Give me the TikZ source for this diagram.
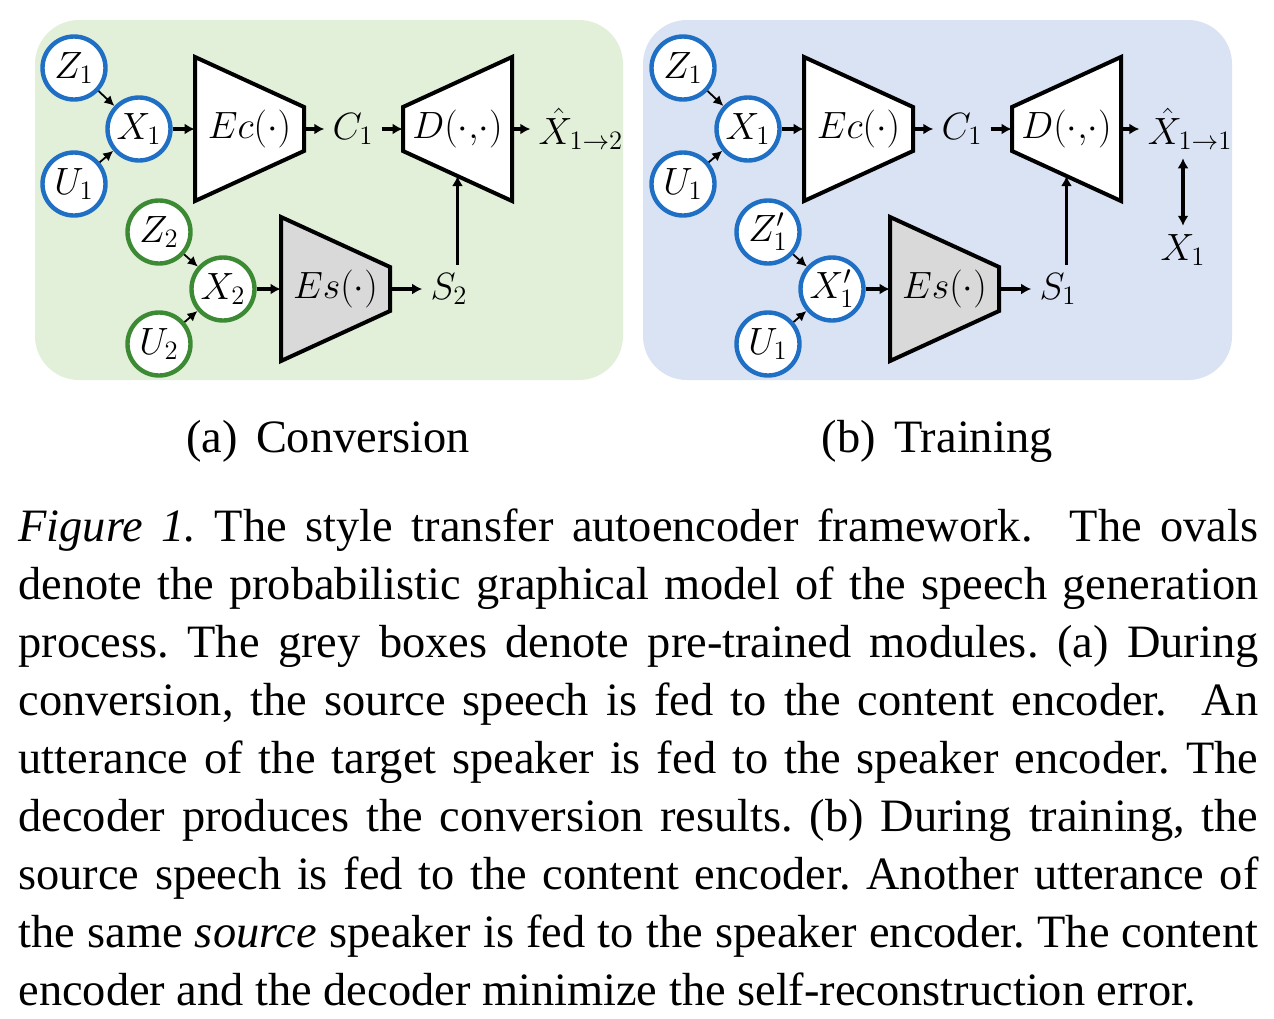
\RequirePackage{fix-cm}
\documentclass[tikz,border=0pt]{standalone}
\usepackage{fontspec}
\usepackage{amsmath}
\setmainfont{Liberation Serif}
\usetikzlibrary{arrows.meta,calc}
\definecolor{convbg}{HTML}{E2F0D9}
\definecolor{trainbg}{HTML}{DAE3F3}
\definecolor{srcblue}{HTML}{1F6FC4}
\definecolor{tgtgreen}{HTML}{3C8B34}
\definecolor{pregrey}{HTML}{D9D9D9}
\tikzset{
  var/.style     = {circle, draw, line width=2.2pt, fill=white, minimum size=31.5pt,
                    inner sep=0pt, font=\fontsize{19}{22}\selectfont},
  srcvar/.style  = {var, draw=srcblue},
  tgtvar/.style  = {var, draw=tgtgreen},
  enc/.style     = {draw=black, line width=2pt, fill=white, line join=miter},
  pre/.style     = {enc, fill=pregrey},
  modl/.style    = {minimum width=54.5pt, minimum height=72pt, inner sep=0pt,
                    font=\fontsize{19}{22}\selectfont},
  lab/.style     = {inner sep=4pt, font=\fontsize{19}{22}\selectfont},
  flow/.style    = {-{Latex[length=5pt,width=5.5pt]}, line width=1.6pt},
  thinflow/.style = {-{Latex[length=5pt,width=5pt]}, line width=0.9pt},
  dflow/.style   = {{Latex[length=5pt,width=5.5pt]}-{Latex[length=5pt,width=5.5pt]}, line width=1.8pt},
  subcap/.style  = {font=\fontsize{23.2}{28}\selectfont, inner sep=0pt, anchor=base},
  capt/.style    = {font=\fontsize{23.2}{29}\selectfont\frenchspacing, text width=620pt,
                    align=justify, inner sep=0pt, anchor=north west},
}

\begin{document}
\begin{tikzpicture}[x=0.5pt, y=-0.5pt]
\path[use as bounding box, fill=white] (0,0) rectangle (1274,1018);

% panel backgrounds
\fill[convbg, rounded corners=22pt] (35,20) rectangle (623,380);
\fill[trainbg, rounded corners=22pt] (643,20) rectangle (1232,380);

% (a) conversion
\node[srcvar] (aZ1) at (74,68) {$Z_1$};
\node[srcvar] (aX1) at (139,129) {$X_1$};
\node[srcvar] (aU1) at (74,184) {$U_1$};
\node[tgtvar] (aZ2) at (159,232) {$Z_2$};
\node[tgtvar] (aX2) at (223,289) {$X_2$};
\node[tgtvar] (aU2) at (159,344) {$U_2$};

\draw[enc] (195,57) -- (304,107) -- (304,151) -- (195,201) -- cycle;
\node[modl] (aEc) at (249.5,129) {$Ec(\cdot)$};
\draw[enc] (403,107) -- (512,57) -- (512,201) -- (403,151) -- cycle;
\node[modl] (aD) at (457.5,129) {$D(\cdot{,}\cdot)$};
\coordinate (aDin) at (457.5,176);
\draw[pre] (281,217) -- (390,267) -- (390,311) -- (281,361) -- cycle;
\node[modl] (aEs) at (335.5,289) {$Es(\cdot)$};

\node[lab] (aC1) at (353,129) {$C_1$};
\node[lab] (aXh) at (581,129) {$\hat{X}_{1\to 2}$};
\node[lab] (aS2) at (449,289) {$S_2$};

\draw[thinflow] (aZ1) -- (aX1); \draw[thinflow] (aU1) -- (aX1);
\draw[thinflow] (aZ2) -- (aX2); \draw[thinflow] (aU2) -- (aX2);
\draw[flow] (aX1) -- (aEc); \draw[flow] (aEc) -- (aC1);
\draw[flow] (aC1) -- (aD); \draw[flow] (aD) -- (aXh);
\draw[flow] (aX2) -- (aEs); \draw[flow] (aEs) -- (aS2);
\draw[flow] (aS2.north -| aDin) -- (aDin);

% (b) training
\begin{scope}[shift={(609,0)}]
\node[srcvar] (bZ1) at (74,68) {$Z_1$};
\node[srcvar] (bX1) at (139,129) {$X_1$};
\node[srcvar] (bU1) at (74,184) {$U_1$};
\node[srcvar] (bZ1p) at (159,232) {$Z'_1$};
\node[srcvar] (bX1p) at (223,289) {$X'_1$};
\node[srcvar] (bU1p) at (159,344) {$U_1$};

\draw[enc] (195,57) -- (304,107) -- (304,151) -- (195,201) -- cycle;
\node[modl] (bEc) at (249.5,129) {$Ec(\cdot)$};
\draw[enc] (403,107) -- (512,57) -- (512,201) -- (403,151) -- cycle;
\node[modl] (bD) at (457.5,129) {$D(\cdot{,}\cdot)$};
\coordinate (bDin) at (457.5,176);
\draw[pre] (281,217) -- (390,267) -- (390,311) -- (281,361) -- cycle;
\node[modl] (bEs) at (335.5,289) {$Es(\cdot)$};

\node[lab] (bC1) at (353,129) {$C_1$};
\node[lab] (bXh) at (581,129) {$\hat{X}_{1\to 1}$};
\node[lab] (bS1) at (449,289) {$S_1$};
\node[lab] (bXt) at (574,250) {$X_1$};

\draw[thinflow] (bZ1) -- (bX1); \draw[thinflow] (bU1) -- (bX1);
\draw[thinflow] (bZ1p) -- (bX1p); \draw[thinflow] (bU1p) -- (bX1p);
\draw[flow] (bX1) -- (bEc); \draw[flow] (bEc) -- (bC1);
\draw[flow] (bC1) -- (bD); \draw[flow] (bD) -- (bXh);
\draw[flow] (bX1p) -- (bEs); \draw[flow] (bEs) -- (bS1);
\draw[flow] (bS1.north -| bDin) -- (bDin);
\draw[dflow] (bXh.south -| bXt) -- (bXt.north);
\end{scope}

% captions
\node[subcap] (capa) at (328,452) {(a)\hspace{0.4em}Conversion};
\node[subcap] (capb) at (937,452) {(b)\hspace{0.4em}Training};
\node[capt] (cap) at (18,508) {\textit{Figure 1.} The style transfer autoencoder framework.\ \ The ovals\linebreak
denote the probabilistic graphical model of the speech generation\linebreak
process. The grey boxes denote pre-trained modules. (a) During\linebreak
conversion, the source speech is fed to the content encoder.\ \ An\linebreak
utterance of the target speaker is fed to the speaker encoder. The\linebreak
decoder produces the conversion results. (b) During training, the\linebreak
source speech is fed to the content encoder. Another utterance of\linebreak
the same \textit{source} speaker is fed to the speaker encoder. The content\linebreak
encoder and the decoder minimize the self-reconstruction error.};
\end{tikzpicture}
\end{document}
